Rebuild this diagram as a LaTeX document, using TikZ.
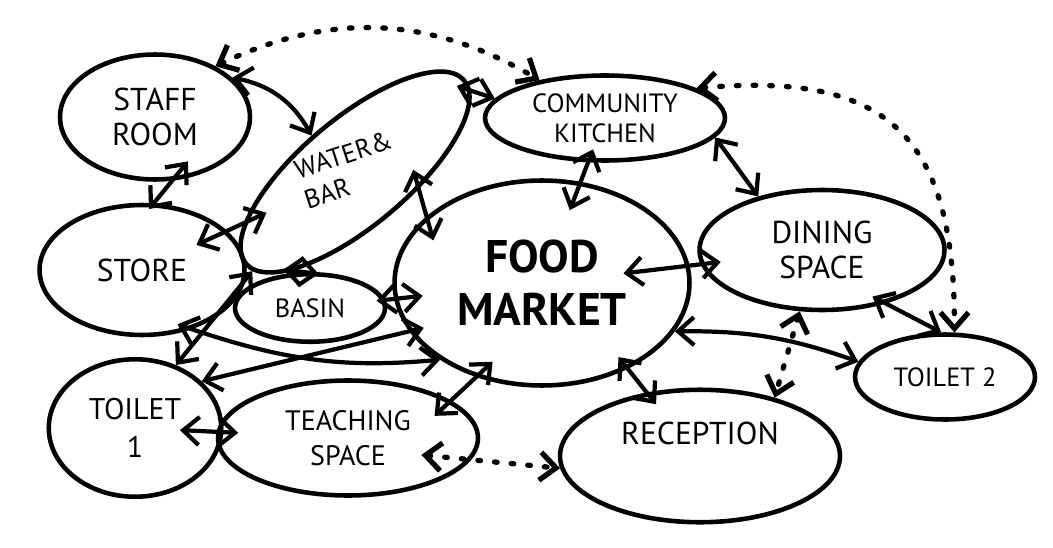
\documentclass[tikz,border=0pt]{standalone}
\usepackage{fontspec}
\setmainfont{PT Sans}
\usetikzlibrary{arrows.meta,shapes.geometric}

\begin{document}
\begin{tikzpicture}[x=0.02cm, y=0.02cm, line width=2.6pt, >={Straight Barb[length=3.2mm,width=5.6mm]},
	every node/.style={font=\fontsize{18}{20}\selectfont, align=center},
	room/.style={draw, ellipse, inner sep=1pt},
	link/.style={<->, line width=2.4pt},
	dots/.style={<->, line width=3pt, dash pattern=on 1.5pt off 8pt, line cap=round}]
	\useasboundingbox (0,0) rectangle (1053,-547);
	\node[room, minimum width=3.8cm, minimum height=2.5cm] (staff) at (155,-117) {STAFF\\ROOM};
	\node[room, rotate=40, minimum width=5.7cm, minimum height=2.15cm] (bar) at (355,-172) {};
	\node[rotate=18, align=left, font=\fontsize{15}{18}\selectfont] (bartext) at (348,-170) {WATER\&\\BAR};
	\node[room, minimum width=4.8cm, minimum height=1.7cm, font=\fontsize{15}{17}\selectfont] (kitchen) at (605,-118) {COMMUNITY\\KITCHEN};
	\node[room, minimum width=4.1cm, minimum height=2.6cm] (store) at (142,-270) {STORE};
	\node[room, minimum width=3cm, minimum height=1.35cm, font=\fontsize{15}{17}\selectfont] (basin) at (310,-308) {BASIN};
	\node[room, minimum width=5.9cm, minimum height=4.1cm, font=\fontsize{26}{30}\selectfont\bfseries] (food) at (542,-283) {FOOD\\MARKET};
	\node[room, minimum width=4.9cm, minimum height=2.4cm] (dining) at (822,-250) {DINING\\SPACE};
	\node[room, minimum width=3.45cm, minimum height=2.75cm, font=\fontsize{17}{22}\selectfont] (toilet1) at (135,-428) {TOILET\\1};
	\node[room, minimum width=5.2cm, minimum height=2.3cm, font=\fontsize{16}{20}\selectfont] (teaching) at (348,-438) {TEACHING\\SPACE};
	\node[room, minimum width=5.6cm, minimum height=2.65cm, text depth=0.9cm] (reception) at (700,-456) {RECEPTION};
	\node[room, minimum width=3.6cm, minimum height=1.7cm, font=\fontsize{15}{17}\selectfont] (toilet2) at (945,-377) {TOILET 2};

	\draw[link] (staff.27) to[bend left=25] (bar.100);
	\draw[dots] (staff.40) to[bend left=28] (kitchen.150);
	\draw[link, shorten <=-0.5cm, shorten >=-0.15cm] (staff.-75) -- (store.80);
	\draw[link, shorten <=1.2cm, shorten >=1.95cm] (store.center) -- (bar.center);
	\draw[link, shorten <=-0.3cm] (bar.-5) -- (kitchen.170);
	\draw[link, shorten <=-0.4cm, shorten >=-0.5cm] (bar.-55) -- (food.150);
	\draw[link, shorten <=-0.2cm, shorten >=-0.3cm] (bar.198) -- (basin.100);
	\draw[link, shorten <=1.34cm, shorten >=2.4cm] (basin.center) -- (food.center);
	\draw[link, shorten <=-0.3cm] (store.-50) to[bend right=12] (food.217);
	\draw[link] (toilet1.57) -- (bar.184);
	\draw[link, shorten >=-0.3cm] (toilet1.35) -- (food.200);
	\draw[link, shorten <=0.9cm, shorten >=2.2cm] (toilet1.center) -- (teaching.center);
	\draw[link, shorten <=-0.45cm, shorten >=-0.45cm] (teaching.20) -- (food.235);
	\draw[dots, shorten <=-1cm] (teaching.-10) -- (reception.185);
	\draw[link, shorten <=0.67cm, shorten >=1.56cm] (kitchen.center) -- (food.center);
	\draw[link] (kitchen.-10) -- (dining.140);
	\draw[dots] (kitchen.18) to[out=5, in=90, looseness=1.4] (toilet2.78);
	\draw[link, shorten <=1.64cm, shorten >=2.04cm] (food.center) -- (dining.center);
	\draw[link] (food.-20) to[bend left=10] (toilet2.170);
	\draw[link, shorten <=-0.3cm, shorten >=-0.3cm] (food.-45) -- (reception.130);
	\draw[link, shorten <=-0.3cm] (dining.-40) -- (toilet2.95);
	\draw[dots] (dining.-110) -- (reception.38);
\end{tikzpicture}
\end{document}
